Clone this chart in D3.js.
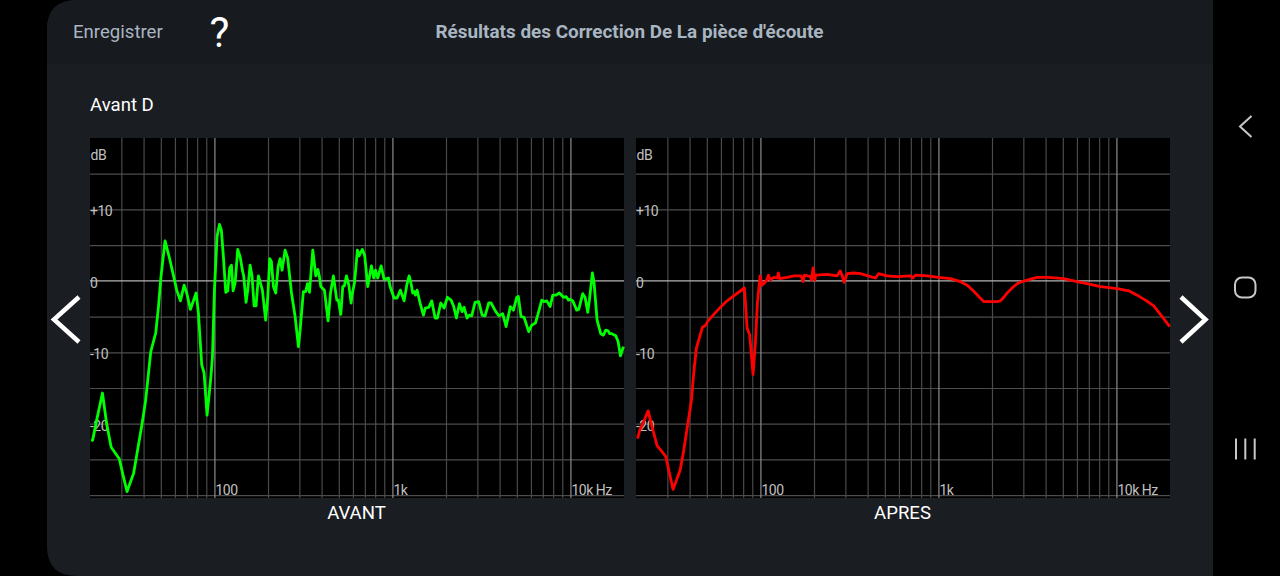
<!DOCTYPE html>
<html>
<head>
<meta charset="utf-8">
<script src="https://cdn.jsdelivr.net/npm/d3@7"></script>
<style>
  html, body { margin: 0; padding: 0; background: #000; overflow: hidden; }
  svg { display: block; }
  text { font-family: Roboto, sans-serif; }
</style>
</head>
<body>
<svg id="screen"></svg>
<script>
// Data: frequency in Hz, level in dB
var avantFreq = [20.3,20.7,21.8,23.5,24.8,26.3,29.2,30.8,32.3,35.2,36.9,39.1,41,43.9,46.8,48.5,50.1,52.8,55.9,58.8,61.4,64.4,67.6,69.9,73.3,78.9,81.3,84.9,87.5,90.9,95.4,97.5,100,103.5,106.7,109.4,112.3,115.8,118.8,121.9,124.6,127.3,130.7,135.2,139.4,143.6,146.2,150.6,153.9,158.6,162.8,167.1,171.4,176.7,186,194,199.4,204.6,209,214.5,221,228,234,240,249.5,258,271,284,296.5,303,316,326,333,342,357,371,381,389,396,415,435,449,466,487,497,513,526,537,552,569,586,
  591,612,636,650,661,678,699,727,762,785,803,827,864,898,950,970,1022,1062,1109,1163,1204,1241,1267,1300,1329,1346,1376,1430,1493,1532,1600,1663,1737,1790,1869,1951,2037,2136,2211,2288,2379,2463,2527,2627,2708,2790,2913,3055,3190,3316,3476,3583,3807,3975,4164,4352,4600,4784,4994,5100,5280,5490,5830,6064,6359,6553,6901,7115,7362,7690,7960,8310,8670,9135,9455,9750,10000,10310,10850,11140,11730,12090,12510,12780,13290,13580,14120,14800,15320,15790,16280,16630,17070,17980,18530,19100,19860];
var avantDb = [-22.4,-22.3,-19.5,-15.7,-20,-23.3,-24.9,-27.4,-29.5,-26.9,-23.9,-20.2,-16.9,-9.9,-7.3,-3.6,0.6,5.6,3.2,0.8,-1.3,-2.8,-0.6,-1.7,-4,-1.7,-4.5,-11.8,-12.9,-18.8,-13.6,-10.6,-1.3,6.2,7.9,7.1,3.4,-1.6,-1.4,1.8,2.2,-1.4,-0.3,4.4,3.4,1.5,0.6,-3,-1.3,2.2,0.6,-3.5,-3.5,0.7,-1.3,-5.5,-2.2,3.1,2.7,-0.8,-1.7,2,3.1,1.5,4.3,3.2,-1.7,-5,-9.2,-6.9,-1.5,-1.5,-0.4,-1.6,4.3,0.7,1.6,0.6,-0.8,-1.3,-5.6,-1.7,0.7,-2.7,-2.7,-4.7,-0.8,-0.7,0.7,-0.6,-3.1,
  -2.2,-0.3,4.3,3.5,3.9,4.4,3.5,-0.8,2.1,0.4,1.5,0.4,2.1,0.2,0.4,-0.8,-2.4,-2.4,-1.3,-2.8,-0.6,0.7,-0.1,-1.7,-1.5,-2,-1.3,-3.1,-4.8,-3.8,-3.7,-2.8,-5.2,-5.2,-3.1,-3.8,-2.3,-2.7,-3.6,-5.2,-3.2,-4.3,-3.7,-5.2,-4.8,-4.9,-3,-2.9,-4.8,-4.9,-3.1,-3.1,-4.3,-4.9,-4.6,-6.4,-3.6,-4.1,-2.3,-2.2,-5,-5.1,-7.1,-6.2,-5.9,-4.8,-2.7,-2.9,-2.8,-3.6,-2,-2,-1.7,-2.3,-2.2,-2.7,-2.6,-2.8,-4.1,-4,-1.8,-2.3,-4.4,-2.7,1.1,-0.3,-5.5,-7.4,-7.6,-6.9,-7,-7.4,-7.4,-7.7,-8.5,-10.5,-9.2];

var apresFreq = [20.4,21,22.1,23.4,24.6,26.3,28,29.4,31,32.3,35.4,37.1,39.1,41,42.2,43.7,45.6,47.2,48.9,50.8,54.7,59.6,65,70.8,81.3,84.2,87.1,90.9,93.7,96.2,99.6,102.2,105.3,108.5,110.9,113.8,118.9,124.1,126.2,128.4,141.2,153.9,169,173.8,176.7,191,193.5,197.7,202,204.6,237,270,281,289,295,307,334,365,415,443,462,515,586,697,
  718,743,864,1000,1168,1329,1449,1526,1614,1699,1798,1893,2002,2136,2230,2328,2431,2594,2767,2951,3148,3581,4167,5058,6012,7145,8128,10085,11730,13070,14550,16220,18060,19940];
var apresDb = [-22.1,-20.9,-19.7,-18.2,-20.4,-23.1,-23.9,-24.6,-27.2,-29.2,-26.5,-23.7,-20,-16.7,-12.9,-9.4,-7.8,-6.5,-6.3,-5.6,-4.7,-3.7,-2.8,-2.1,-1,-6.6,-7.6,-13.1,-8.7,-3.1,0.7,-0.6,-0.3,0.1,0.8,0.1,0.5,0.4,1.1,0.3,0.5,0.7,0.7,-0.1,0.8,0.6,0.1,1.8,0.1,0.8,0.9,0.7,1.4,0.6,-0.2,1,1.1,1,0.6,0.4,1,0.7,0.6,0.7,
  0.4,0.8,0.7,0.5,0.3,-0.1,-0.6,-1.1,-1.7,-2.3,-2.9,-2.9,-2.9,-2.9,-2.8,-2.3,-1.7,-1,-0.4,-0.1,0.1,0.5,0.5,0.3,-0.1,-0.5,-0.8,-1.1,-1.4,-2,-2.7,-3.5,-5,-6.4];

// Grid and tick labels
var minorFreqs = [30,40,50,60,70,80,90,200,300,400,500,600,700,800,900,2000,3000,4000,5000,6000,7000,8000,9000];
var majorFreqs = [100,1000,10000];
var freqLabels = ["100","1k","10k Hz"];
var gridDb = [15,10,5,-5,-10,-15,-20,-25,-30];
var dbTicks = [10,0,-10,-20];
var dbLabels = ["+10","0","-10","-20"];

var width = 1280, height = 576;
var plotW = 534, plotTop = 138, plotBottom = 498;

var svg = d3.select("#screen").attr("width", width).attr("height", height);

// App panel
var panelPath = "M77,0 H1213 V576 H77 Q47,576 47,546 V30 Q47,0 77,0 Z";
svg.append("rect").attr("width", width).attr("height", height).attr("fill", "#000");
svg.append("path").attr("d", panelPath).attr("fill", "#1a1d22");
svg.append("clipPath").attr("id", "panel-clip").append("path").attr("d", panelPath);
svg.append("rect").attr("x", 47).attr("y", 0).attr("width", 1166).attr("height", 64)
  .attr("fill", "#171a1e").attr("clip-path", "url(#panel-clip)");

svg.append("text").text("Enregistrer")
  .attr("x", 73).attr("y", 38).attr("font-size", 18.6).attr("fill", "#aab6c2");
svg.append("text").text("?")
  .attr("x", 219.5).attr("y", 47).attr("text-anchor", "middle")
  .attr("font-size", 42).attr("fill", "#fff");
svg.append("text").text("Résultats des Correction De La pièce d'écoute")
  .attr("x", 629.5).attr("y", 38).attr("text-anchor", "middle")
  .attr("font-size", 18.9).attr("font-weight", 700).attr("fill", "#a9b6c2");
svg.append("text").text("Avant D")
  .attr("x", 90).attr("y", 111).attr("font-size", 18.6).attr("fill", "#fff");

function drawPanel(left, freqs, dbs, color, title) {
  var x = d3.scaleLog().domain([20, 20000]).range([left, left + plotW]);
  var y = d3.scaleLinear().domain([20, -30.4]).range([plotTop, plotBottom]);
  var g = svg.append("g");

  g.append("rect")
    .attr("x", left).attr("y", plotTop)
    .attr("width", plotW).attr("height", plotBottom - plotTop)
    .attr("fill", "#000");

  // grid lines are just axes with long ticks
  var minorAxis = d3.axisBottom(x).tickValues(minorFreqs)
    .tickSize(plotBottom - plotTop).tickFormat("");
  var minor = g.append("g").attr("transform", "translate(0," + plotTop + ")").call(minorAxis);
  minor.select(".domain").remove();
  minor.selectAll("line").attr("stroke", "#4a4a4a").attr("stroke-width", 1.2);

  var hAxis = d3.axisRight(y).tickValues(gridDb)
    .tickSize(plotW).tickFormat("");
  var horiz = g.append("g").attr("transform", "translate(" + left + ",0)").call(hAxis);
  horiz.select(".domain").remove();
  horiz.selectAll("line").attr("stroke", "#4d4d4d").attr("stroke-width", 1.2);

  var majorAxis = d3.axisBottom(x).tickValues(majorFreqs)
    .tickSize(plotBottom - plotTop).tickFormat("");
  var major = g.append("g").attr("transform", "translate(0," + plotTop + ")").call(majorAxis);
  major.select(".domain").remove();
  major.selectAll("line").attr("stroke", "#8c8c8c").attr("stroke-width", 1.2);

  g.append("line")
    .attr("x1", left).attr("x2", left + plotW)
    .attr("y1", y(0)).attr("y2", y(0))
    .attr("stroke", "#b4b4b4").attr("stroke-width", 1.3);

  // labels
  g.append("text").text("dB")
    .attr("x", left + 0.5).attr("y", 160).attr("font-size", 14)
    .attr("letter-spacing", -0.5).attr("fill", "#c0c0c0");
  g.selectAll(".db-label").data(dbTicks).enter().append("text")
    .attr("class", "db-label")
    .text(function (d, i) { return dbLabels[i]; })
    .attr("x", left).attr("y", function (d) { return y(d) + 7; })
    .attr("font-size", 14).attr("letter-spacing", -0.5).attr("fill", "#c0c0c0");
  g.selectAll(".freq-label").data(majorFreqs).enter().append("text")
    .attr("class", "freq-label")
    .text(function (d, i) { return freqLabels[i]; })
    .attr("x", function (d) { return x(d) + 1; }).attr("y", 494.5)
    .attr("font-size", 14).attr("letter-spacing", -0.5).attr("fill", "#c0c0c0");

  var line = d3.line()
    .x(function (d, i) { return x(freqs[i]); })
    .y(function (d) { return y(d); });
  g.append("path").datum(dbs)
    .attr("d", line)
    .attr("fill", "none")
    .attr("stroke", color)
    .attr("stroke-width", 2.8)
    .attr("stroke-linejoin", "round");

  g.append("text").text(title)
    .attr("x", left + plotW / 2 - 0.5).attr("y", 519).attr("text-anchor", "middle")
    .attr("font-size", 18.6).attr("fill", "#fff");
}

drawPanel(90, avantFreq, avantDb, "#0f0", "AVANT");
drawPanel(636, apresFreq, apresDb, "#f00", "APRES");

// Big white arrows either side of the charts
svg.append("path").attr("d", "M79,297 L54,319.5 L79,342")
  .attr("fill", "none").attr("stroke", "#fff").attr("stroke-width", 4.5);
svg.append("path").attr("d", "M1181,297 L1205.5,319.5 L1181,342")
  .attr("fill", "none").attr("stroke", "#fff").attr("stroke-width", 4.5);

// Android nav bar
var nav = svg.append("g").attr("fill", "none").attr("stroke", "#c8c8c8").attr("stroke-width", 2);
nav.append("path").attr("d", "M1251.5,116 L1240,126.5 L1251.5,137");
nav.append("rect").attr("x", 1235).attr("y", 277.5).attr("width", 20.5).attr("height", 20).attr("rx", 7);
nav.append("path").attr("d", "M1236,438.5 V459.5 M1245.3,438.5 V459.5 M1254.7,438.5 V459.5");
</script>
</body>
</html>
